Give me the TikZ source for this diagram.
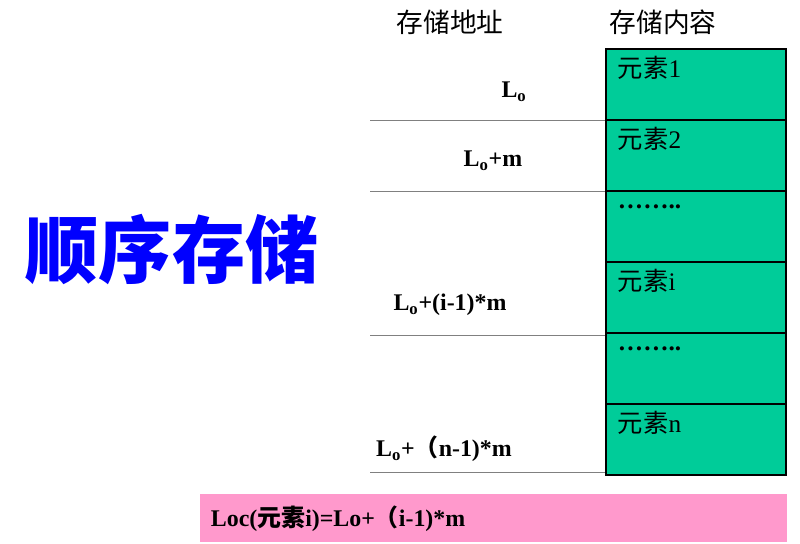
\documentclass[tikz,border=0pt]{standalone}
\usepackage{fontspec}
\setmainfont{Liberation Serif}
\newfontfamily\cjk{Noto Sans CJK SC}
\usetikzlibrary{positioning,calc}
\definecolor{cellgreen}{HTML}{00CC99}
\definecolor{notepink}{HTML}{FF99CC}
\begin{document}
\begin{tikzpicture}[x=0.025cm,y=-0.025cm,
  cell/.style={draw=black,line width=1.2pt,fill=cellgreen,minimum width=180*0.025cm,
    minimum height=71*0.025cm,anchor=north west,inner sep=0pt},
  celltext/.style={anchor=north west,font=\fontsize{18}{20}\selectfont},
  addr/.style={font=\bfseries\fontsize{17}{19}\selectfont},
  sep/.style={draw=gray,line width=0.5pt}]
  \useasboundingbox (0,0) rectangle (800,544);

  % headers
  \node[font=\cjk\fontsize{19}{21}\selectfont] (hAddr) at (450,22) {存储地址};
  \node[font=\cjk\fontsize{19}{21}\selectfont] (hCont) at (663,22) {存储内容};

  % title
  \node[font=\cjk\bfseries\fontsize{52}{56}\selectfont,text=blue] (title) at (172,250) {顺序存储};

  % storage cells
  \foreach \i/\txt/\dy [count=\k from 0] in {c1/{\cjk 元素}1/3,c2/{\cjk 元素}2/3,c3/{\bfseries ……..}/10,ci/{\cjk 元素}i/3,c5/{\bfseries ……..}/10,cn/{\cjk 元素}n/3}{
    \node[cell] (\i) at (605,{48+71*\k}) {};
    \node[celltext] at ($(\i.north west)+(8,\dy)$) {\txt};
  }

  % address separators
  \coordinate (s1) at (370,120);
  \coordinate (s2) at (370,191);
  \coordinate (s3) at (370,335);
  \coordinate (s4) at (370,472);
  \draw[sep] (s1) -- (s1 -| c1.west);
  \draw[sep] (s2) -- (s2 -| c2.west);
  \draw[sep] (s3) -- (s3 -| ci.west);
  \draw[sep] (s4) -- (s4 -| cn.west);

  % addresses
  \node[addr] (a1) at (514,92) {L\textsubscript{o}};
  \node[addr] (a2) at (493,161) {L\textsubscript{o}+m};
  \node[addr] (ai) at (450,305) {L\textsubscript{o}+(i-1)*m};
  \node[addr] (an) at (444,449) {L\textsubscript{o}+{\cjk （}n-1)*m};

  % formula
  \node[fill=notepink,minimum width=587*0.025cm,minimum height=48*0.025cm,anchor=north west,inner sep=0pt] (note) at (200,494) {};
  \node[addr,anchor=west] (formula) at (206,519) {Loc({\cjk 元素}i)=Lo+{\cjk （}i-1)*m};
\end{tikzpicture}
\end{document}
